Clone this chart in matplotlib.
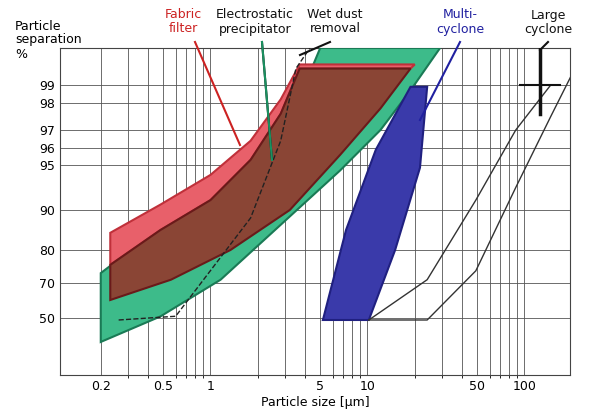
import numpy as np
import matplotlib.pyplot as plt
from matplotlib.patches import Polygon

# y-scale anchors (percent -> relative position)
y_vals = [30, 50, 70, 80, 90, 95, 96, 97, 98, 99, 99.9]
y_pos = [0, 57, 92, 125, 165, 210, 227, 245, 272, 290, 327]
ytick_vals = [50, 70, 80, 90, 95, 96, 97, 98, 99]
xtick_vals = [0.2, 0.5, 1, 5, 10, 50, 100]
xtick_labels = ['0.2', '0.5', '1', '5', '10', '50', '100']

green_x = [0.2, 0.415, 0.86, 1.8, 3.2, 4.3, 5.0, 29, 18.8, 12.1, 6.7, 2.8, 1.16, 0.48, 0.2]
green_y = [73, 83.7, 91.1, 95.3, 97.7, 99.3, 99.9, 99.9, 98.7, 97, 94.4, 86.3, 71, 50.9, 41.6]
red_x = [0.23, 0.48, 1.0, 1.8, 2.8, 3.7, 20, 18.8, 3.7, 2.8, 1.8, 1.0, 0.48, 0.23]
red_y = [84.3, 90.6, 93.9, 96.4, 98.2, 99.5, 99.5, 99.4, 99.4, 97.6, 95.3, 91.1, 85, 75.5]
brown_x = [0.23, 0.48, 1.0, 1.8, 2.8, 3.7, 18.8, 12.1, 6.7, 3.2, 1.34, 0.56, 0.23]
brown_y = [75.5, 85, 91.1, 95.3, 97.6, 99.4, 99.4, 97.8, 95.6, 90, 80, 71, 60.3]
blue_x = [5.2, 7.3, 11.3, 18.8, 24, 21.6, 15, 10.2]
blue_y = [49.3, 85, 95.9, 98.9, 98.9, 94.7, 80, 49.3]
cycA_x = [10.2, 24, 49, 88, 147]
cycA_y = [49.3, 71, 91.1, 97, 99]
cycB_x = [10.2, 24, 49, 88, 147, 197]
cycB_y = [49.3, 49.3, 73.7, 92.5, 97.5, 99.2]
wet_x = [0.26, 0.6, 1.8, 2.8, 3.5, 4.3]
wet_y = [49.3, 51, 88, 96.4, 99.4, 99.9]

def fwd(v):
    return np.interp(v, y_vals, y_pos)
def inv(p):
    return np.interp(p, y_pos, y_vals)

fig = plt.figure(figsize=(5.98, 4.09), dpi=100)
ax = fig.add_axes([60/598, 34/409, 510/598, 327/409])
ax.set_xscale('log')
ax.set_yscale('function', functions=(fwd, inv))
ax.set_xlim(0.11, 195)
ax.set_ylim(30, 99.9)
ax.set_xticks(xtick_vals)
ax.set_xticklabels(xtick_labels)
ax.xaxis.set_minor_formatter(plt.NullFormatter())
ax.set_yticks(ytick_vals)
ax.set_yticklabels([str(v) for v in ytick_vals])
ax.yaxis.set_minor_locator(plt.NullLocator())
ax.grid(True, which='both', axis='x', color='#555', lw=0.6)
ax.grid(True, which='major', axis='y', color='#555', lw=0.6)
ax.tick_params(length=0, labelsize=9)
for s in ax.spines.values():
    s.set_color('#444')

def poly(xs, ys, fc, ec):
    ax.add_patch(Polygon(np.column_stack([xs, ys]), closed=True, fc=fc, ec=ec, lw=1.5, zorder=3))

poly(green_x, green_y, '#3dbb8a', '#1a7a55')
poly(red_x, red_y, '#e8606a', '#c0303a')
poly(brown_x, brown_y, '#8a4535', '#6a1a1a')
poly(blue_x, blue_y, '#3a3aaa', '#202080')
ax.plot(cycA_x, cycA_y, color='#333', lw=1, zorder=4)
ax.plot(cycB_x, cycB_y, color='#333', lw=1, zorder=4)
ax.plot(wet_x, wet_y, color='#222', lw=1, ls='--', zorder=4)
ax.plot([126, 126], [99.9, 97.6], color='#111', lw=2.5, zorder=4)
ax.plot([94, 169], [99, 99], color='#111', lw=1.5, zorder=4)

ax.set_xlabel('Particle size [µm]', fontsize=9, labelpad=2)
fig.text(15/598, 1-40/409, 'Particle\nseparation\n%', fontsize=9, va='center', linespacing=1.1)

def note(px, py, txt, color, lx, ly):
    fig.text(px/598, 1-py/409, txt, fontsize=9, color=color, ha='center', va='center', linespacing=1.1)
    fig.add_artist(plt.Line2D([lx[0]/598, lx[1]/598], [1-ly[0]/409, 1-ly[1]/409], color=color, lw=1.5))

note(183, 22, 'Fabric\nfilter', '#cc2222', (195, 240), (42, 145))
note(255, 22, 'Electrostatic\nprecipitator', '#111', (262, 272), (42, 160))
fig.add_artist(plt.Line2D([262/598, 272/598], [1-42/409, 1-160/409], color='#1a9060', lw=1.5))
note(335, 22, 'Wet dust\nremoval', '#111', (330, 300), (42, 55))
note(460, 22, 'Multi-\ncyclone', '#2020a0', (460, 420), (42, 120))
note(548, 22, 'Large\ncyclone', '#111', (548, 540), (42, 50))

fig.savefig('out.png', dpi=100)
